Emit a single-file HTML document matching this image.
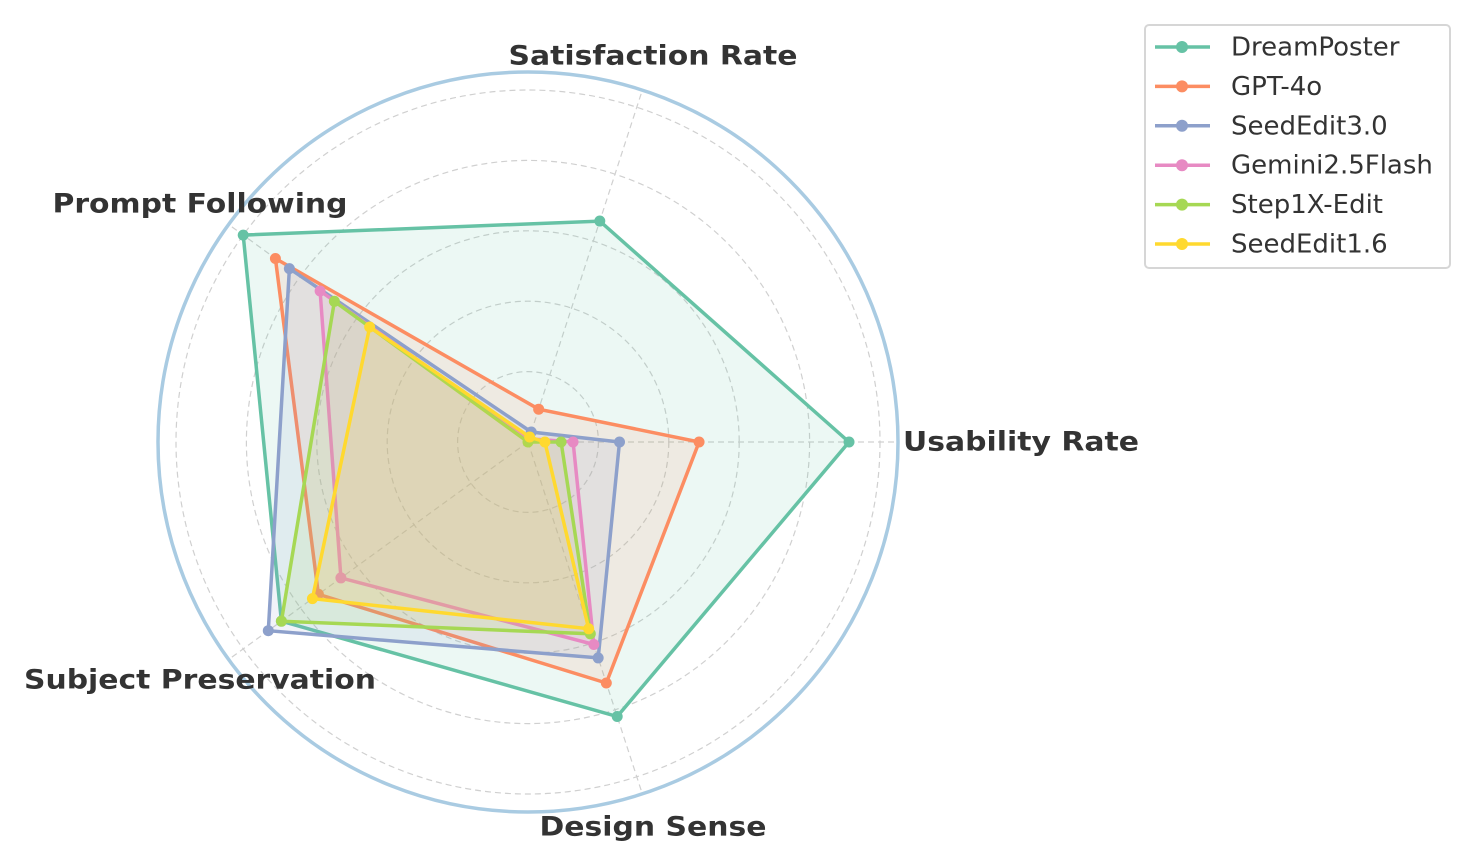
<!DOCTYPE html>
<html><head><meta charset="utf-8">
<style>
html,body{margin:0;padding:0;background:#fff;}
svg{display:block;font-family:"DejaVu Sans","Liberation Sans",sans-serif;}
</style></head>
<body>
<svg id="chart" width="1474" height="866" viewBox="0 0 1474 866" xmlns="http://www.w3.org/2000/svg">
<g id="grid"></g>
<g id="series"></g>
<g id="labels"></g>
<g id="legend"></g>
</svg>
<script>
const categories = ["Usability Rate","Satisfaction Rate","Prompt Following","Subject Preservation","Design Sense"];
const seriesNames = ["DreamPoster","GPT-4o","SeedEdit3.0","Gemini2.5Flash","Step1X-Edit","SeedEdit1.6"];
const dreamPoster = [0.912,0.66,1.0,0.866,0.82];
const gpt4o = [0.486,0.098,0.887,0.736,0.72];
const seedEdit30 = [0.26,0.03,0.838,0.912,0.645];
const gemini = [0.128,0.01,0.73,0.657,0.605];
const step1x = [0.094,0.0,0.68,0.866,0.573];
const seedEdit16 = [0.048,0.015,0.556,0.757,0.558];
const gridLevels = [0.2,0.4,0.6,0.8,1.0];
const colors = ["#66c2a5","#fc8d62","#8da0cb","#e78ac3","#a6d854","#ffd92f"];
const allSeries = [dreamPoster,gpt4o,seedEdit30,gemini,step1x,seedEdit16];

const NS="http://www.w3.org/2000/svg";
const cx=528, cy=442, R=352, outerR=370;
function angle(i){return (i*72)*Math.PI/180;}
function px(v,i){return cx+v*R*Math.cos(angle(i));}
function py(v,i){return cy-v*R*Math.sin(angle(i));}
function mk(tag,attrs,parent){const e=document.createElementNS(NS,tag);for(const k in attrs)e.setAttribute(k,attrs[k]);parent.appendChild(e);return e;}

const grid=document.getElementById('grid');
gridLevels.forEach(l=>{
  const c=mk('circle',{cx:cx,cy:cy,r:l*R,fill:'none',stroke:'#d0d0d0','stroke-width':1.2,'stroke-dasharray':'6,4'},grid);
  
  
});
categories.forEach((c,i)=>{
  const ln=mk('line',{x1:cx,y1:cy,x2:cx+outerR*Math.cos(angle(i)),y2:cy-outerR*Math.sin(angle(i)),stroke:'#d0d0d0','stroke-width':1.2,'stroke-dasharray':'6,4'},grid);
  
  
});
const oc=mk('circle',{cx:cx,cy:cy,r:outerR,fill:'none',stroke:'#a9cbe2','stroke-width':3.5},grid);



const sg=document.getElementById('series');
allSeries.forEach((vals,s)=>{
  const pts=vals.map((v,i)=>px(v,i).toFixed(1)+','+py(v,i).toFixed(1)).join(' ');
  const poly=mk('polygon',{points:pts,fill:colors[s],'fill-opacity':0.12,stroke:colors[s],'stroke-width':3.5,'stroke-linejoin':'miter'},sg);
  
  
  vals.forEach((v,i)=>{
    const p=mk('circle',{cx:px(v,i),cy:py(v,i),r:5.5,fill:colors[s]},sg);
    
    
  });
});

const lg=document.getElementById('labels');
const labelPos=[[903,443,'start',236],[653,57,'middle',289],[200,205,'middle',295],[200,681,'middle',352],[653,828,'middle',227]];
categories.forEach((c,i)=>{
  const t=mk('text',{x:labelPos[i][0],y:labelPos[i][1],'text-anchor':labelPos[i][2],'dominant-baseline':'middle','font-size':27,'font-weight':'bold',fill:'#333',textLength:labelPos[i][3],lengthAdjust:'spacingAndGlyphs'},lg);
  t.textContent=c;
  
  
});

const leg=document.getElementById('legend');
const box=mk('rect',{x:1145,y:25,width:305,height:243,rx:4,fill:'#fff',stroke:'#d6d6d6','stroke-width':2},leg);


seriesNames.forEach((n,s)=>{
  const y=47+s*39.4;
  const g=mk('g',{},leg);
  
  
  mk('line',{x1:1155,y1:y,x2:1210,y2:y,stroke:colors[s],'stroke-width':3.5},g);
  mk('circle',{cx:1182,cy:y,r:6,fill:colors[s]},g);
  const t=mk('text',{x:1231,y:y+1,'dominant-baseline':'middle','font-size':26,fill:'#333'},g);
  t.textContent=n;
});
</script>
</body></html>
